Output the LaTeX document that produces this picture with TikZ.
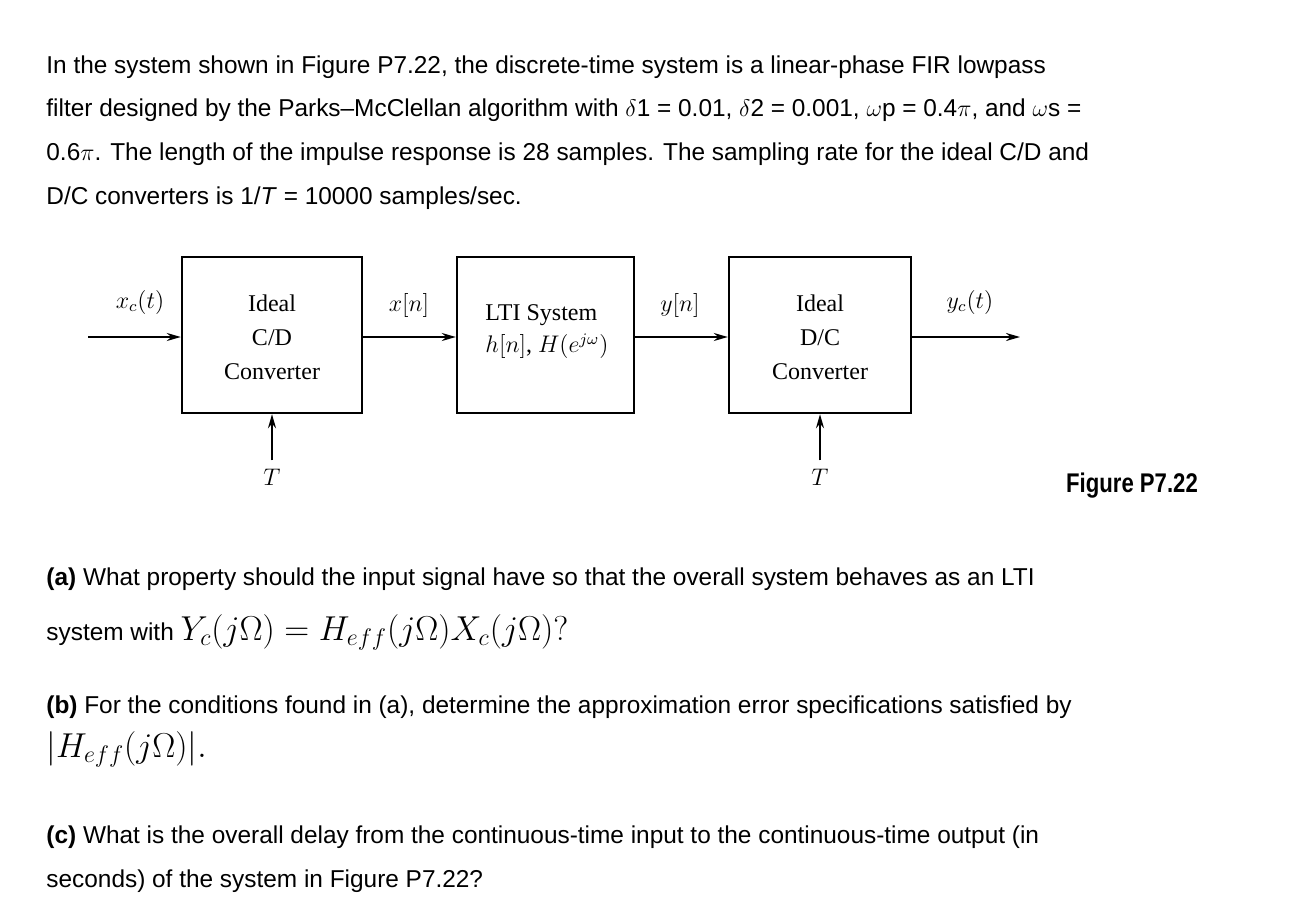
\documentclass[tikz,border=0pt]{standalone}
\usepackage{fontspec}
\setmainfont{Liberation Sans}
\newfontfamily\tms{Liberation Serif}
\usetikzlibrary{arrows.meta}
\begin{document}
\begin{tikzpicture}[x=0.5pt,y=-0.5pt,
  txt/.style={anchor=base west,inner sep=0,font=\fontsize{12.2}{14}\selectfont},
  blk/.style={draw,line width=1.2pt,minimum width=90pt,minimum height=78pt,inner sep=0},
  dtxt/.style={font=\tms\fontsize{12}{14}\selectfont,inner sep=0},
  sig/.style={line width=1pt,-{Stealth[length=7pt,width=4pt]}}]
\useasboundingbox (0,0) rectangle (1290,920);
\node[txt] (l1) at (46,74) {In the system shown in Figure P7.22, the discrete-time system is a linear-phase FIR lowpass};
\node[txt] (l2) at (46,117) {filter designed by the Parks–McClellan algorithm with $\delta$1 = 0.01, $\delta$2 = 0.001, $\omega$p = 0.4$\pi$, and $\omega$s =};
\node[txt] (l3) at (46,161) {0.6$\pi$. The length of the impulse response is 28 samples. The sampling rate for the ideal C/D and};
\node[txt] (l4) at (46,205) {D/C converters is 1/\textit{T} = 10000 samples/sec.};
% diagram
\node[blk] (b1) at (272,335) {};
\node[blk,minimum width=88.5pt] (b2) at (545.5,335) {};
\node[blk,minimum width=91pt] (b3) at (820,335) {};
\node[dtxt,align=center] at (272,337) {Ideal\\[3pt]C/D\\[3pt]Converter};
\node[dtxt,align=left] at (547,332) {LTI System\\[2pt]$h[n]$, $H(e^{j\omega})$};
\node[dtxt,align=center] at (820,337) {Ideal\\[3pt]D/C\\[3pt]Converter};
\coordinate (in) at (88,337);
\coordinate (out) at (1020,337);
\draw[sig] (in) -- (in-|b1.west);
\draw[sig] (b1.east|-in) -- (b2.west|-in);
\draw[sig] (b2.east|-in) -- (b3.west|-in);
\draw[sig] (b3.east|-in) -- (out);
\node[dtxt] (xc) at (140,302) {$x_c(t)$};
\node[dtxt] (xn) at (409,305) {$x[n]$};
\node[dtxt] (yn) at (680,305) {$y[n]$};
\node[dtxt] (yc) at (970,302) {$y_c(t)$};
\node[dtxt] (t1) at (272,477) {$T$};
\node[dtxt] (t2) at (820,477) {$T$};
\draw[sig] (t1.north) ++(0,-8) -- (b1.south);
\draw[sig] (t2.north) ++(0,-8) -- (b3.south);
\node[anchor=base,inner sep=0] (fig) at (1132,492) {\scalebox{0.82}[1]{\fontsize{13.5}{16}\selectfont\bfseries Figure P7.22}};
% questions
\node[txt] (qa) at (46,585) {\textbf{(a)} What property should the input signal have so that the overall system behaves as an LTI};
\node[txt] (qa2) at (46,640) {system with \fontsize{18}{20}\selectfont $Y_c(j\Omega)=H_{eff}(j\Omega)X_c(j\Omega)?$};
\node[txt] (qb) at (46,713) {\textbf{(b)} For the conditions found in (a), determine the approximation error specifications satisfied by};
\node[txt] (qb2) at (46,757) {\fontsize{18}{20}\selectfont $|H_{eff}(j\Omega)|.$};
\node[txt] (qc) at (46,843) {\textbf{(c)} What is the overall delay from the continuous-time input to the continuous-time output (in};
\node[txt] (qc2) at (46,887) {seconds) of the system in Figure P7.22?};
\end{tikzpicture}
\end{document}
